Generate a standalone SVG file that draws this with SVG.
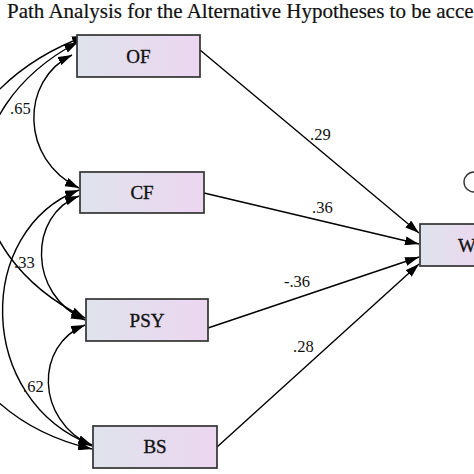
<svg xmlns="http://www.w3.org/2000/svg" width="474" height="474" viewBox="0 0 474 474">
<defs>
<linearGradient id="bg" x1="0" y1="0" x2="1" y2="0">
<stop offset="0" stop-color="#dfe3ec"/>
<stop offset="1" stop-color="#ecd6f0"/>
</linearGradient>
<marker id="ah" viewBox="0 0 14 9" refX="14" refY="4.5" markerWidth="14" markerHeight="9" markerUnits="userSpaceOnUse" orient="auto-start-reverse">
<path d="M0,0 L14,4.5 L0,9 Z" fill="#000"/>
</marker>
<style>
.box{fill:url(#bg);stroke:#333;stroke-width:1.7}
.lbl{font-family:"Liberation Serif","Times New Roman",serif;font-size:19px;fill:#111;stroke:#111;stroke-width:0.35;text-anchor:middle}
.num{font-family:"Liberation Serif","Times New Roman",serif;font-size:16.5px;fill:#111}
.ttl{font-family:"Liberation Serif","Times New Roman",serif;font-size:21px;fill:#111;stroke:#111;stroke-width:0.2}
.ln{fill:none;stroke:#000;stroke-width:1.4;marker-end:url(#ah)}
.cv{fill:none;stroke:#000;stroke-width:1.4;marker-end:url(#ah);marker-start:url(#ah)}
</style>
</defs>
<rect width="474" height="474" fill="#fff"/>
<text class="ttl" x="7" y="18">Path Analysis for the Alternative Hypotheses to be acce</text>
<g id="connectors">
<path class="ln" d="M200,50 L419,233"/>
<path class="ln" d="M204,193 L419,244"/>
<path class="ln" d="M208,328 L419,257"/>
<path class="ln" d="M217,447 L419,264"/>
<path class="cv" d="M72,55 C20,80 20,160 79,188"/>
<path class="cv" d="M79,196 C28,215 28,295 85,320"/>
<path class="cv" d="M85,325 C35,345 35,420 92,446"/>
<path class="cv" d="M78,42 C-50,110 -50,250 85,318"/>
<path class="cv" d="M79,190 C-25,230 -25,400 92,445"/>
<path class="cv" d="M86,36 C-120,110 -120,400 92,449"/>
<text class="num" x="10" y="114">.65</text>
<text class="num" x="14" y="268">.33</text>
<text class="num" x="23" y="392">.62</text>
<text class="num" x="310" y="140">.29</text>
<text class="num" x="312" y="213">.36</text>
<text class="num" x="284" y="287">-.36</text>
<text class="num" x="293" y="352">.28</text>
</g>
<g id="OF"><rect class="box" x="77" y="35" width="123" height="42"/><text class="lbl" x="138.5" y="63">OF</text></g>
<g id="CF"><rect class="box" x="80" y="172" width="124" height="41"/><text class="lbl" x="142" y="199">CF</text></g>
<g id="PSY"><rect class="box" x="86" y="299" width="122" height="42"/><text class="lbl" x="147" y="327">PSY</text></g>
<g id="BS"><rect class="box" x="93" y="426" width="124" height="42"/><text class="lbl" x="155" y="453">BS</text></g>
<g id="W"><rect class="box" x="420" y="224" width="70" height="42"/><text class="lbl" x="458" y="252" style="text-anchor:start">W</text></g>
<g id="e"><circle cx="474" cy="182" r="10" fill="#fff" stroke="#333" stroke-width="1.4"/></g>
</svg>
